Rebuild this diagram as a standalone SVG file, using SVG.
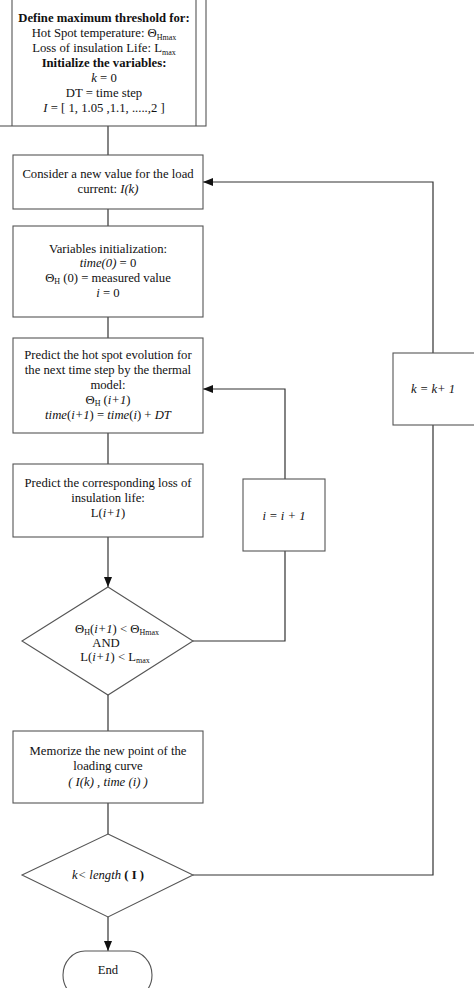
<svg xmlns="http://www.w3.org/2000/svg" width="474" height="988" viewBox="0 0 474 988">
<style>
.n{fill:#fff;stroke:#555;stroke-width:1.1}
.c{fill:none;stroke:#333;stroke-width:1.2}
text{font-family:"Liberation Serif","Times New Roman",serif;font-size:12.7px;fill:#111;text-anchor:middle}
.b{font-weight:bold}
.i{font-style:italic}
.s{font-size:8px}
</style>
<defs>
<marker id="ah" markerWidth="10" markerHeight="8" refX="10" refY="4" orient="auto" markerUnits="userSpaceOnUse">
<path d="M0,0 L10,4 L0,8 Z" fill="#111"/>
</marker>
</defs>
<rect width="474" height="988" fill="#fff"/>
<g id="connectors">
<line class="c" x1="108" y1="126" x2="108" y2="155"/>
<line class="c" x1="108" y1="209" x2="108" y2="226"/>
<line class="c" x1="108" y1="317" x2="108" y2="338"/>
<line class="c" x1="108" y1="433" x2="108" y2="464"/>
<line class="c" x1="108" y1="537" x2="108" y2="587" marker-end="url(#ah)"/>
<line class="c" x1="108" y1="695" x2="108" y2="731"/>
<line class="c" x1="108" y1="803" x2="108" y2="834"/>
<line class="c" x1="108" y1="917" x2="108" y2="951" marker-end="url(#ah)"/>
<polyline class="c" points="193,641 285,641 285,551"/>
<polyline class="c" points="285,479 285,389 203,389" marker-end="url(#ah)"/>
<polyline class="c" points="193,875 433,875 433,425"/>
<polyline class="c" points="433,353 433,182 203,182" marker-end="url(#ah)"/>
</g>
<g id="init">
<rect class="n" x="-2" y="-2" width="208" height="128"/>
<line class="n" x1="12" y1="-2" x2="12" y2="126"/>
<line class="n" x1="196" y1="-2" x2="196" y2="126"/>
<text class="b" x="104" y="22">Define maximum threshold for:</text>
<text x="104" y="37">Hot Spot temperature: Θ<tspan class="s" dy="3">Hmax</tspan></text>
<text x="104" y="52">Loss of insulation Life: L<tspan class="s" dy="3">max</tspan></text>
<text class="b" x="104" y="67">Initialize the variables:</text>
<text x="104" y="82"><tspan class="i">k</tspan> = 0</text>
<text x="104" y="97">DT = time step</text>
<text x="104" y="112"><tspan class="i">I</tspan> = [ 1, 1.05 ,1.1, .....,2 ]</text>
</g>
<g id="newcurrent">
<rect class="n" x="13" y="155" width="190" height="54"/>
<text x="108" y="178">Consider a new value for the load</text>
<text x="108" y="193">current: <tspan class="i">I(k)</tspan></text>
</g>
<g id="varinit">
<rect class="n" x="13" y="226" width="190" height="91"/>
<text x="108" y="253">Variables initialization:</text>
<text x="108" y="267"><tspan class="i">time(0)</tspan> = 0</text>
<text x="108" y="282">Θ<tspan class="s" dy="2">H</tspan><tspan dy="-2"> (0) = measured value</tspan></text>
<text x="108" y="297"><tspan class="i">i</tspan> = 0</text>
</g>
<g id="predicthot">
<rect class="n" x="13" y="338" width="190" height="95"/>
<text x="108" y="359">Predict the hot spot evolution for</text>
<text x="108" y="374">the next time step by the thermal</text>
<text x="108" y="389">model:</text>
<text x="108" y="404">Θ<tspan class="s" dy="2">H</tspan><tspan dy="-2"> (</tspan><tspan class="i">i+1</tspan>)</text>
<text x="108" y="419"><tspan class="i">time</tspan>(<tspan class="i">i+1</tspan>) = <tspan class="i">time</tspan>(<tspan class="i">i</tspan>) + <tspan class="i">DT</tspan></text>
</g>
<g id="predictloss">
<rect class="n" x="13" y="464" width="190" height="73"/>
<text x="108" y="487">Predict the corresponding loss of</text>
<text x="108" y="502">insulation life:</text>
<text x="108" y="517">L(<tspan class="i">i+1</tspan>)</text>
</g>
<g id="check">
<polygon class="n" points="108,587 193,641 108,695 22,641"/>
<text x="117" y="633">Θ<tspan class="s" dy="2">H</tspan><tspan dy="-2">(</tspan><tspan class="i">i+1</tspan>) &lt; Θ<tspan class="s" dy="2">Hmax</tspan></text>
<text x="106" y="647">AND</text>
<text x="115" y="661">L(<tspan class="i">i+1</tspan>) &lt; L<tspan class="s" dy="2">max</tspan></text>
</g>
<g id="incri">
<rect class="n" x="243" y="479" width="82" height="72"/>
<text class="i" x="284" y="520">i = i + 1</text>
</g>
<g id="memorize">
<rect class="n" x="13" y="731" width="190" height="72"/>
<text x="108" y="755">Memorize the new point of the</text>
<text x="108" y="770">loading curve</text>
<text class="i" x="108" y="786">( I(k) , time (i) )</text>
</g>
<g id="checkk">
<polygon class="n" points="108,834 193,875 108,917 22,875"/>
<text x="108" y="879"><tspan class="i">k&lt; length</tspan> <tspan class="b">( I )</tspan></text>
</g>
<g id="incrk">
<rect class="n" x="393" y="353" width="84" height="72"/>
<text class="i" x="433" y="393">k = k+ 1</text>
</g>
<g id="end">
<rect class="n" x="63" y="951" width="89" height="48" rx="22" ry="24"/>
<text x="108" y="974">End</text>
</g>
</svg>
